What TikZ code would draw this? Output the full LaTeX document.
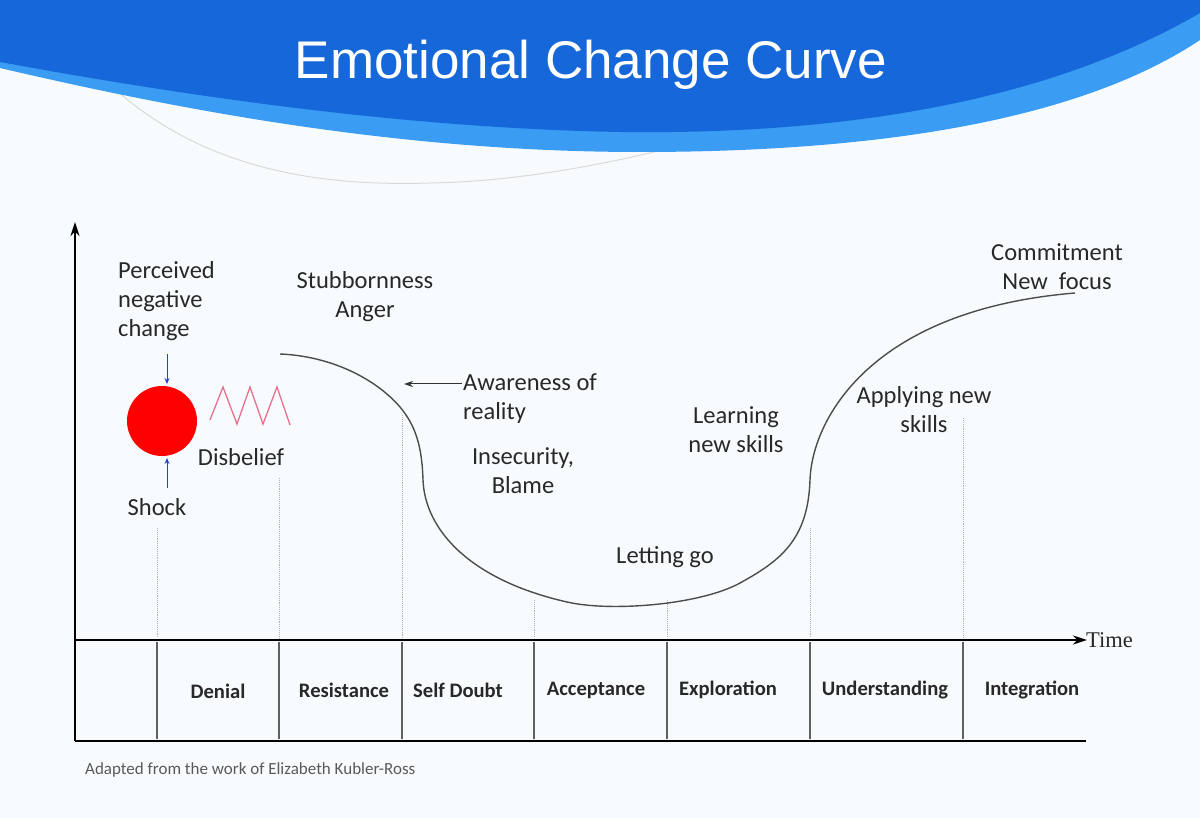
\documentclass[tikz,border=0pt]{standalone}
\usepackage{fontspec}
\setmainfont{Carlito}
\newfontfamily\titlefont{Liberation Sans}
\newfontfamily\timefont{Liberation Serif}
\usetikzlibrary{arrows.meta}
\definecolor{bg}{HTML}{F8FBFD}
\definecolor{darkblue}{HTML}{1668DA}
\definecolor{lightblue}{HTML}{3A9CF2}
\definecolor{txt}{HTML}{282828}
\definecolor{zig}{HTML}{E8708E}
\definecolor{arrblue}{HTML}{2244C8}
\tikzset{
  lbl/.style={text=txt, font=\fontsize{24.5}{29}\selectfont, align=center, inner sep=0pt},
  lblleft/.style={lbl, align=left, anchor=west},
  phase/.style={text=txt, font=\fontsize{20.6}{24}\selectfont\bfseries, inner sep=0pt},
  axis/.style={line width=2.8pt, black},
  dotline/.style={gray!60, line width=0.9pt, densely dotted},
  sepline/.style={gray!75!black, line width=1.2pt},
  curveline/.style={line width=1.4pt, black!70},
}
\begin{document}
\begin{tikzpicture}[x=1pt,y=-1pt]
\useasboundingbox (0,0) rectangle (1200,818);
\fill[bg] (0,0) rectangle (1200,818);
% faint decorative curve
\draw[gray!30, line width=1pt] (100,75) .. controls (200,175) and (330,186) .. (430,183) .. controls (600,180) and (800,120) .. (1130,0);
% header
\fill[lightblue] (0,0) -- (1200,0) -- (1200,40) .. controls (1080,120) and (880,152) .. (640,152) .. controls (400,152) and (180,110) .. (0,68) -- cycle;
\fill[darkblue] (0,0) -- (1200,0) -- (1200,13) .. controls (1050,100) and (850,135) .. (620,132) .. controls (400,128) and (180,95) .. (0,62) -- cycle;
\node[text=white, font=\titlefont\fontsize{53}{60}\selectfont, inner sep=0pt] (title) at (591,65) {Emotional Change Curve};
% axes
\coordinate (origin) at (75,741);
\coordinate (ytop) at (75,222);
\coordinate (xleft) at (75,640);
\coordinate (xright) at (1087,640);
\coordinate (bright) at (1086,741);
\draw[axis, -{Stealth[length=14pt,width=9pt]}] (origin) -- (ytop);
\draw[axis, -{Stealth[length=14pt,width=9pt]}] (xleft) -- (xright);
\draw[axis] (origin) -- (bright);
\node[text=txt, font=\timefont\fontsize{22.5}{26}\selectfont, anchor=west, inner sep=0pt] (time) at (1086,640) {Time};
% separators
\foreach \x/\t in {157/528, 279/478, 402/415, 534/600, 667/600, 810/528, 963/418}{
  \draw[dotline] (\x,\t) -- (\x,638);
  \draw[sepline] (\x,642) -- (\x,739);
}
% phase labels
\node[phase] (p1) at (218,691) {Denial};
\node[phase] (p2) at (344,690) {Resistance};
\node[phase] (p3) at (458,690) {Self Doubt};
\node[phase] (p4) at (596,690) {Acceptance};
\node[phase] (p5) at (728,690) {Exploration};
\node[phase] (p6) at (885,690) {Understanding};
\node[phase] (p7) at (1032,690) {Integration};
% footer
\node[text=black!65, font=\fontsize{17}{20}\selectfont, anchor=west, inner sep=0pt] (foot) at (85,770) {Adapted from the work of Elizabeth Kubler-Ross};
% curve
\draw[curveline] (280,354) .. controls (330,356) and (375,378) .. (400,407)
  .. controls (415,425) and (422,445) .. (423,480)
  .. controls (425,530) and (470,580) .. (567,602)
  .. controls (610,612) and (700,605) .. (740,583)
  .. controls (780,561) and (808,540) .. (810,480)
  .. controls (812,420) and (870,310) .. (1075,293);
% shock circle
\node[circle, fill=red, minimum size=70pt, inner sep=0pt] (shock) at (162,421) {};
\coordinate (tarr) at (167,354);
\coordinate (barr) at (167,488);
\draw[arrblue, line width=0.9pt, -{Stealth[length=6pt,width=5pt]}] (tarr) -- (167,384);
\draw[arrblue, line width=0.9pt, -{Stealth[length=6pt,width=5pt]}] (barr) -- (167,458);
\draw[zig, line width=1.3pt] (210,420) -- (223,387) -- (237,424) -- (250,387) -- (263,424) -- (277,387) -- (290,425);
% labels
\node[lblleft] (perc) at (118,301) {Perceived\\negative\\change};
\node[lbl] (stub) at (365,297) {Stubbornness\\Anger};
\node[lblleft] (aware) at (463,399) {Awareness of\\reality};
\coordinate (awtip) at (404,384);
\draw[black!80, line width=1pt, -{Stealth[length=9pt,width=6pt]}] (462,384) -- (awtip);
\node[lbl] (insec) at (523,471) {Insecurity,\\Blame};
\node[lbl] (letgo) at (665,557) {Letting go};
\node[lbl] (learn) at (736,430) {Learning\\new skills};
\node[lbl] (apply) at (924,410) {Applying new\\skills};
\node[lbl] (commit) at (1057,267) {Commitment\\New\ \ focus};
\node[lbl] (disb) at (241,457) {Disbelief};
\node[lbl] (shk) at (157,507) {Shock};
\end{tikzpicture}
\end{document}
